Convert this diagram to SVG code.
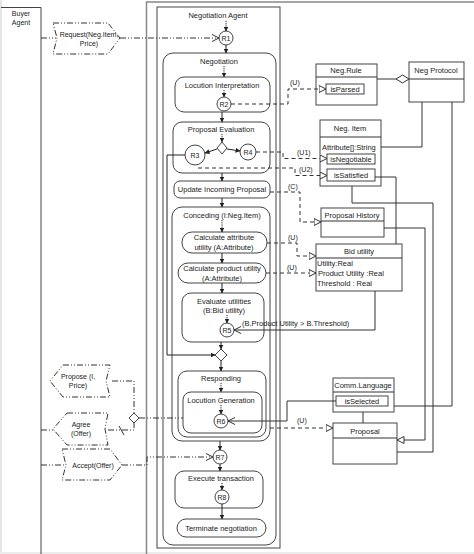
<svg xmlns="http://www.w3.org/2000/svg" width="474" height="554" viewBox="0 0 474 554">
<defs>
<style>
text{font-family:"Liberation Sans",Arial,sans-serif;fill:#222;font-size:7.5px}
.c{text-anchor:middle}
.sm{font-size:7px}
.box{fill:none;stroke:#444;stroke-width:1}
.rr{fill:#fff;stroke:#444;stroke-width:1}
.cls{fill:#fff;stroke:#444;stroke-width:1}
.node{fill:#fff;stroke:#444;stroke-width:1}
.flow{fill:none;stroke:#222;stroke-width:1;marker-end:url(#af)}
.dflow{fill:none;stroke:#222;stroke-width:1;stroke-dasharray:1.2 1;marker-end:url(#af)}
.dash{fill:none;stroke:#333;stroke-width:1;stroke-dasharray:4 3}
.dasht{fill:none;stroke:#333;stroke-width:1;stroke-dasharray:4 3;marker-end:url(#tri)}
.sol{fill:none;stroke:#333;stroke-width:1}
.solo{fill:none;stroke:#333;stroke-width:1;marker-end:url(#ch)}
.solt{fill:none;stroke:#333;stroke-width:1;marker-end:url(#tri)}
.msg{fill:none;stroke:#333;stroke-width:1;stroke-dasharray:6 2 1 2 1 2}
.msgo{fill:none;stroke:#333;stroke-width:1;stroke-dasharray:6 2 1 2 1 2;marker-end:url(#ch)}
.sig{fill:#fff;stroke:#333;stroke-width:1;stroke-dasharray:6 2 1 2 1 2}
</style>
<marker id="af" markerUnits="userSpaceOnUse" markerWidth="5" markerHeight="5" refX="4.5" refY="2.5" orient="auto"><path d="M0,0 L5,2.5 L0,5 z" fill="#222"/></marker>
<marker id="ch" markerUnits="userSpaceOnUse" markerWidth="8" markerHeight="8" refX="7" refY="4" orient="auto"><path d="M0,0.5 L7,4 L0,7.5" fill="none" stroke="#333" stroke-width="1"/></marker>
<marker id="tri" markerUnits="userSpaceOnUse" markerWidth="9" markerHeight="9" refX="7.5" refY="4" orient="auto"><path d="M0.5,0.5 L7.5,4 L0.5,7.5 z" fill="#fff" stroke="#333" stroke-width="1"/></marker>
</defs>
<rect x="0" y="0" width="474" height="554" fill="#fff"/>
<rect x="0" y="0" width="2" height="554" fill="#e6e6e6"/>
<rect x="0" y="552" width="474" height="2" fill="#ececec"/>

<g id="buyer-agent">
<path d="M1,7.5 H41 V554" class="box"/>
<text x="21" y="16" class="c sm">Buyer</text>
<text x="21" y="25" class="c sm">Agent</text>
</g>

<g id="outer-frame">
<path d="M146.5,554 V2 H474" fill="none" stroke="#888" stroke-width="1.5"/>
</g>

<g id="negotiation-agent">
<rect x="157" y="7" width="123" height="541" class="box"/>
<text x="218" y="18" class="c">Negotiation Agent</text>
</g>

<g id="negotiation">
<rect x="163" y="53" width="113" height="492" rx="10" class="box"/>
<text x="219" y="64" class="c">Negotiation</text>
</g>

<g id="locution-interpretation">
<rect x="175" y="77" width="95" height="35" rx="9" class="rr"/>
<text x="222" y="88" class="c">Locution Interpretation</text>
</g>

<g id="proposal-evaluation">
<rect x="173" y="122" width="97" height="51" rx="9" class="rr"/>
<text x="221" y="132" class="c">Proposal Evaluation</text>
<polygon points="222,142 227,148 222,154 217,148" class="node"/>
</g>

<g id="update-incoming-proposal">
<rect x="174" y="181" width="96" height="17" rx="6" class="rr"/>
<text x="222" y="192" class="c">Update Incoming Proposal</text>
</g>

<g id="conceding">
<rect x="172" y="207" width="98" height="234" rx="10" class="box"/>
<text x="222" y="218" class="c">Conceding (I:Neg.Item)</text>
</g>

<g id="calc-attribute-utility">
<rect x="182" y="232" width="85" height="21" rx="10" class="rr"/>
<text x="224" y="240" class="c">Calculate attribute</text>
<text x="224" y="250" class="c">utility (A:Attribute)</text>
</g>

<g id="calc-product-utility">
<rect x="178" y="263" width="88" height="20" rx="10" class="rr"/>
<text x="222" y="271" class="c">Calculate product utility</text>
<text x="222" y="281" class="c">(A:Attribute)</text>
</g>

<g id="evaluate-utilities">
<rect x="182" y="293" width="82" height="49" rx="9" class="rr"/>
<text x="224" y="304" class="c">Evaluate utilities</text>
<text x="224" y="313" class="c">(B:Bid utility)</text>
</g>

<g id="merge-diamond">
<polygon points="221,349 227,355 221,361 215,355" class="node"/>
</g>

<g id="responding">
<rect x="178" y="371" width="88" height="66" rx="9" class="box"/>
<text x="221" y="381" class="c">Responding</text>
</g>

<g id="locution-generation">
<rect x="183" y="392" width="79" height="41" rx="8" class="rr"/>
<text x="221" y="403" class="c">Locution Generation</text>
</g>

<g id="execute-transaction">
<rect x="175" y="471" width="88" height="37" rx="9" class="rr"/>
<text x="221" y="481" class="c">Execute transaction</text>
</g>

<g id="terminate-negotiation">
<rect x="177" y="519" width="89" height="18" rx="9" class="rr"/>
<text x="221" y="530.5" class="c">Terminate negotiation</text>
</g>

<g id="R1"><circle cx="226" cy="38" r="7" class="node"/><text x="226" y="40.5" class="c sm">R1</text></g>
<g id="R2"><circle cx="224" cy="104" r="7" class="node"/><text x="224" y="106.5" class="c sm">R2</text></g>
<g id="R3"><circle cx="195" cy="155" r="10" class="node"/><text x="195" y="157.5" class="c sm">R3</text></g>
<g id="R4"><circle cx="248" cy="152" r="8" class="node"/><text x="248" y="154.5" class="c sm">R4</text></g>
<g id="R5"><circle cx="227" cy="330" r="7" class="node"/><text x="227" y="332.5" class="c sm">R5</text></g>
<g id="R6"><circle cx="221" cy="421" r="7" class="node"/><text x="221" y="423.5" class="c sm">R6</text></g>
<g id="R7"><circle cx="220" cy="457" r="7" class="node"/><text x="220" y="459.5" class="c sm">R7</text></g>
<g id="R8"><circle cx="222" cy="497" r="7" class="node"/><text x="222" y="499.5" class="c sm">R8</text></g>

<g id="msg-request">
<path d="M53,23 H108 L120,38 L108,54 H53 L57,38 Z" class="sig"/>
<text x="89" y="37" class="c sm">Request(Neg.Item,</text>
<text x="89" y="46" class="c sm">Price)</text>
</g>
<g id="msg-propose">
<path d="M63,365 H110 L106,381 L110,397 H63 L50,381 Z" class="sig"/>
<text x="78" y="379" class="c sm">Propose (I,</text>
<text x="78" y="388" class="c sm">Price)</text>
</g>
<g id="msg-agree">
<path d="M67,413 H108 L105,429 L108,445 H67 L53,429 Z" class="sig"/>
<text x="81" y="427" class="c sm">Agree</text>
<text x="81" y="436" class="c sm">(Offer)</text>
</g>
<g id="msg-accept">
<path d="M62,449 H110 L122,465 L110,480 H62 L66,465 Z" class="sig"/>
<text x="93" y="467.5" class="c sm">Accept(Offer)</text>
</g>
<g id="decision-diamond">
<polygon points="134,413 139,418 134,423 129,418" class="node"/>
</g>

<g id="cls-neg-rule">
<rect x="316" y="64" width="61" height="41" class="cls"/>
<line x1="316" y1="77" x2="377" y2="77" class="sol"/>
<text x="346" y="73" class="c">Neg.Rule</text>
<rect x="326" y="84" width="38" height="10" class="cls"/>
<text x="345" y="92" class="c">isParsed</text>
</g>
<g id="cls-neg-protocol">
<rect x="409" y="62" width="55" height="40" class="cls"/>
<line x1="409" y1="79" x2="464" y2="79" class="sol"/>
<text x="436" y="73" class="c">Neg Protocol</text>
</g>
<g id="cls-neg-item">
<rect x="320" y="120" width="61" height="66" class="cls"/>
<line x1="320" y1="137" x2="381" y2="137" class="sol"/>
<text x="350" y="131" class="c">Neg. Item</text>
<text x="322" y="150">Attribute[]:String</text>
<rect x="327" y="154" width="48" height="10" class="cls"/>
<text x="351" y="162" class="c">isNegotiable</text>
<rect x="327" y="169" width="48" height="12" class="cls"/>
<text x="351" y="178" class="c">isSatisfied</text>
</g>
<g id="cls-proposal-history">
<rect x="321" y="208" width="63" height="29" class="cls"/>
<line x1="321" y1="221" x2="384" y2="221" class="sol"/>
<text x="352" y="217.5" class="c">Proposal History</text>
</g>
<g id="cls-bid-utility">
<rect x="316" y="244" width="86" height="47" class="cls"/>
<line x1="316" y1="258" x2="402" y2="258" class="sol"/>
<text x="359" y="254" class="c">Bid utility</text>
<text x="317" y="266">Utility:Real</text>
<text x="318" y="276">Product Utility :Real</text>
<text x="317" y="286">Threshold : Real</text>
</g>
<g id="cls-comm-language">
<rect x="333" y="378" width="61" height="34" class="cls"/>
<line x1="333" y1="392" x2="394" y2="392" class="sol"/>
<text x="363" y="388" class="c">Comm.Language</text>
<rect x="336" y="396" width="52" height="10" class="cls"/>
<text x="362" y="404" class="c">isSelected</text>
</g>
<g id="cls-proposal">
<rect x="333" y="423" width="64" height="41" class="cls"/>
<line x1="333" y1="438" x2="397" y2="438" class="sol"/>
<text x="365" y="434" class="c">Proposal</text>
</g>

<g id="connectors">
<path d="M226,21 V31" class="dflow"/>
<path d="M226,45 V53" class="flow"/>
<path d="M224,66 V77" class="dflow"/>
<path d="M224,90 V97" class="dflow"/>
<path d="M222,112 V122" class="flow"/>
<path d="M222,134 V142" class="dflow"/>
<path d="M217,149 L205,153" class="flow"/>
<path d="M227,149 L240,151" class="flow"/>
<path d="M222,173 V181" class="flow"/>
<path d="M222,198 V207" class="flow"/>
<path d="M222,220 V232" class="dflow"/>
<path d="M222,253 V263" class="flow"/>
<path d="M222,283 V293" class="flow"/>
<path d="M227,315 V323" class="dflow"/>
<path d="M221,342 V349" class="flow"/>
<path d="M221,361 V371" class="flow"/>
<path d="M221,383 V392" class="dflow"/>
<path d="M221,405 V414" class="dflow"/>
<path d="M220,441 V450" class="flow"/>
<path d="M220,464 V471" class="flow"/>
<path d="M222,483 V490" class="dflow"/>
<path d="M222,504 V519" class="flow"/>
<path d="M185,155 H167 V355 H215" class="flow"/>

<path d="M231,104 H288 V89 H326" class="dasht"/>
<text x="290" y="85" class="sm">(U)</text>
<path d="M256,152 H283 V158.5 H327" class="dasht"/>
<text x="297" y="155" class="sm">(U1)</text>
<path d="M198,168 H295 V175.5 H327" class="dasht"/>
<text x="299" y="171.5" class="sm">(U2)</text>
<path d="M270,192 H300 V222 H321" class="dasht"/>
<text x="288" y="189" class="sm">(C)</text>
<path d="M267,243 H297 V256 H316" class="dasht"/>
<text x="288" y="240" class="sm">(U)</text>
<path d="M266,273 H316" class="dasht"/>
<text x="287" y="270" class="sm">(U)</text>
<path d="M270,428 H333" class="dasht"/>
<text x="297" y="423" class="sm">(U)</text>

<path d="M375,291 V330 H234" class="solo"/>
<text x="242" y="325.5">(B.Product Utility &gt; B.Threshold)</text>
<path d="M336,401 H287 V421 H228" class="solo"/>

<path d="M377,79 H396" class="sol"/>
<polygon points="396,79 402.5,75 409,79 402.5,83" fill="#fff" stroke="#333" stroke-width="1"/>
<path d="M422,102 V147 H381" class="sol"/>
<path d="M452,102 V406 H394" class="sol"/>
<path d="M375,177 H396 V244" class="sol"/>
<path d="M352,186 V203 H433 V452 H397" class="sol"/>
<path d="M384,228 H425 V440 H397" class="solt"/>
<path d="M363,412 V423" class="sol"/>

<path d="M41,38 H56" class="msg"/>
<path d="M120,38 H219" class="msgo"/>
<path d="M112,381 H134 V413" class="msg"/>
<path d="M41,430 H53" class="msg"/>
<path d="M108,430 H134 V423" class="msg"/>
<path d="M119,426 L124,435" class="sol"/>
<path d="M139,418 H183" class="msg"/>
<path d="M41,465 H66" class="msg"/>
<path d="M122,465 H147 V457 H213" class="msgo"/>
</g>
</svg>
